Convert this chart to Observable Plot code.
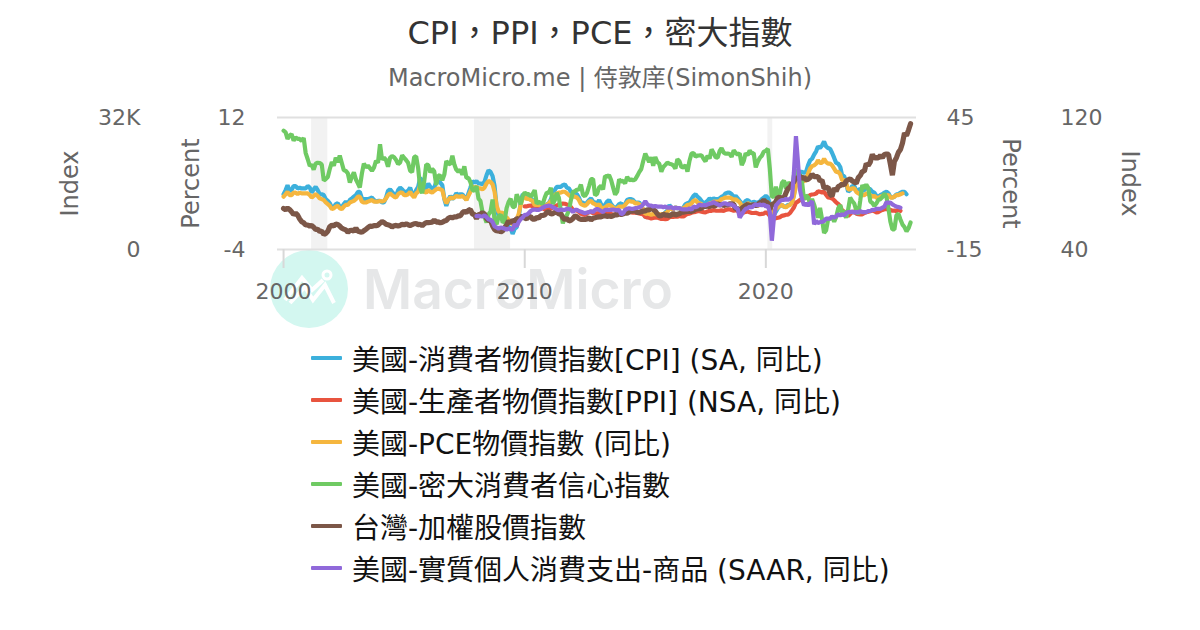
<!DOCTYPE html>
<html><head><meta charset="utf-8">
<script src="https://cdn.jsdelivr.net/npm/d3@7"></script>
<script src="https://cdn.jsdelivr.net/npm/@observablehq/plot@0.6"></script>
<style>
html,body{margin:0;padding:0;background:#fff;width:1200px;height:630px;overflow:hidden;font-family:"DejaVu Sans","Noto Sans CJK TC",sans-serif}
#head{height:100px;text-align:center;position:relative;z-index:2}
#title{font-size:32px;color:#333;position:absolute;left:0;right:0;top:13px;line-height:40px}
#sub{font-size:24px;color:#666;position:absolute;left:0;right:0;top:61px;line-height:34px}
#wm{position:absolute;left:0;top:0;z-index:0}
#chart{position:absolute;left:0;top:100px;z-index:1}
#chart svg{background:transparent;display:block}
#legend{position:absolute;left:311px;top:337px;z-index:2}
.row{height:42px;display:flex;align-items:center;font-size:28px;color:#111;white-space:nowrap}
.sw{width:31px;height:4px;margin-right:10px;border-radius:1px}
</style></head><body>
<svg id="wm" width="1200" height="340">
<circle cx="309" cy="289" r="39" fill="#d3f7f0"/>
<path d="M285 300 L302 278 L312 290 L323 280 M290 303 L305 287 L313 300 L325 285 L334 303" fill="none" stroke="#fff" stroke-width="4"/>
<circle cx="327" cy="275" r="4" fill="none" stroke="#fff" stroke-width="3"/>
<text x="363" y="309" font-family="Inter,Lato,sans-serif" font-weight="600" font-size="55" fill="#e6e7e8" textLength="310" lengthAdjust="spacingAndGlyphs">MacroMicro</text>
</svg>
<div id="head"><div id="title">CPI，PPI，PCE，密大指數</div><div id="sub">MacroMicro.me | 侍敦庠(SimonShih)</div></div>
<div id="chart"></div>
<div id="legend"></div>
<script>
const cpiStart=[2000,0], ppiStart=[2010,0], pceStart=[2000,0], umStart=[2000,0], twStart=[2000,0], goodsStart=[2008,0];
const cpi=[2.7,3.2,3.8,3.1,3.2,3.7,3.7,3.4,3.5,3.4,3.4,3.4,3.7,3.5,2.9,3.3,3.6,3.2,2.7,2.7,2.6,2.1,1.9,1.6,1.1,1.1,1.5,1.6,1.2,1.1,1.5,1.8,1.5,2.0,2.2,2.4,2.6,3.0,3.0,2.2,2.1,2.1,2.1,2.2,2.3,2.0,1.8,1.9,1.9,1.7,1.7,2.3,3.1,3.3,3.0,2.7,2.5,3.2,3.5,3.3,3.0,3.0,3.1,3.5,2.8,2.5,3.2,3.6,4.7,4.3,3.5,3.4,4.0,3.6,3.4,3.5,4.2,4.3,4.1,3.8,2.1,1.3,2.0,2.5,2.1,2.4,2.8,2.6,2.7,2.7,2.4,2.0,2.8,3.5,4.3,4.1,4.3,4.0,4.0,3.9,4.2,5.0,5.6,5.4,4.9,3.7,1.1,0.1,0.0,0.2,-0.4,-0.7,-1.3,-1.4,-2.1,-1.5,-1.3,-0.2,1.8,2.7,2.6,2.1,2.3,2.2,2.0,1.1,1.2,1.1,1.1,1.2,1.1,1.5,1.6,2.1,2.7,3.2,3.6,3.6,3.6,3.8,3.9,3.5,3.4,3.0,2.9,2.9,2.7,2.3,1.7,1.7,1.4,1.7,2.0,2.2,1.8,1.7,1.6,2.0,1.5,1.1,1.4,1.8,2.0,1.5,1.2,1.0,1.2,1.5,1.6,1.1,1.5,2.0,2.1,2.1,2.0,1.7,1.7,1.7,1.3,0.8,-0.1,0.0,-0.1,-0.2,0.0,0.1,0.2,0.2,0.0,0.2,0.5,0.7,1.4,1.0,0.9,1.1,1.0,1.0,0.8,1.1,1.5,1.6,1.7,2.1,2.5,2.7,2.4,2.2,1.9,1.6,1.7,1.9,2.2,2.0,2.2,2.1,2.1,2.2,2.4,2.5,2.8,2.9,2.9,2.7,2.3,2.5,2.2,1.9,1.6,1.5,1.9,2.0,1.8,1.6,1.8,1.7,1.7,1.8,2.1,2.3,2.5,2.3,1.5,0.3,0.1,0.6,1.0,1.3,1.4,1.2,1.2,1.4,1.4,1.7,2.6,4.2,5.0,5.4,5.4,5.3,5.4,6.2,6.8,7.0,7.5,7.9,8.5,8.3,8.6,9.1,8.5,8.3,8.2,7.7,7.1,6.5,6.4,6.0,5.0,4.9,4.0,3.0,3.2,3.7,3.7,3.2,3.1,3.4,3.1,3.2,3.5,3.4,3.3,3.0,2.9,2.5,2.4,2.6,2.7,2.9,3.0,2.8,2.4,2.3,2.4,2.7,2.7,2.9,3.0,3.0,2.7];
const ppi=[4.6,4.6,4.9,5.0,4.7,3.5,3.8,3.4,3.6,3.8,3.2,3.4,3.3,3.5,4.2,4.6,5.0,5.5,5.6,5.9,5.8,5.5,5.2,4.3,3.1,2.9,2.7,2.1,1.2,0.9,0.7,1.4,2.0,2.1,1.5,1.4,1.4,1.6,1.2,0.7,1.0,1.6,1.6,1.2,0.8,0.9,1.1,1.3,1.4,1.5,1.7,2.0,2.1,1.9,1.8,1.7,1.6,1.4,1.2,0.9,-0.1,-0.4,-0.6,-0.9,-0.7,-0.4,-0.5,-0.8,-1.1,-1.1,-1.2,-1.1,-0.3,-0.2,-0.2,0.0,-0.1,0.2,0.0,0.0,0.7,1.2,1.3,1.7,1.9,2.1,2.4,2.4,2.2,2.0,1.9,2.3,2.6,2.6,2.9,2.7,2.6,2.7,2.8,2.5,3.0,3.2,3.3,2.9,2.6,2.9,2.5,2.4,1.9,1.8,2.1,2.3,1.9,1.6,1.6,1.7,1.4,1.0,1.2,1.3,2.0,1.3,0.3,-1.3,-0.9,-0.8,-0.6,-0.3,0.3,0.5,0.8,0.8,1.6,2.9,4.1,6.3,6.8,7.5,7.8,8.3,8.6,8.6,9.8,10.0,10.1,10.4,11.5,11.2,10.9,11.2,9.9,8.7,8.5,8.2,7.4,6.4,5.7,4.7,2.7,2.3,1.1,0.2,1.1,2.0,2.2,1.3,1.1,1.0,1.0,1.6,1.9,2.2,2.4,2.7,2.4,1.9,2.0,2.6,3.0,3.3,3.4,3.2,3.0,2.6,2.7,2.4,3.1,2.6];
const pce=[2.4,2.7,3.0,2.6,2.6,2.9,2.9,2.7,2.9,2.8,2.8,2.8,2.8,2.6,2.3,2.5,2.7,2.5,2.2,2.1,2.0,1.7,1.5,1.3,0.9,1.0,1.2,1.3,1.0,0.9,1.2,1.4,1.4,1.7,1.8,1.9,2.1,2.4,2.4,1.8,1.7,1.7,1.8,1.9,2.0,1.8,1.8,1.8,1.9,1.8,1.9,2.2,2.6,2.8,2.6,2.4,2.3,2.7,2.9,2.9,2.6,2.6,2.7,3.0,2.6,2.3,2.8,3.0,3.8,3.5,3.0,2.9,3.2,3.0,2.9,3.1,3.3,3.4,3.3,3.2,2.2,1.6,2.0,2.3,2.2,2.3,2.5,2.4,2.4,2.5,2.3,2.0,2.5,3.0,3.6,3.5,3.6,3.4,3.4,3.3,3.5,4.0,4.3,4.2,3.9,3.0,1.3,0.6,0.4,0.5,0.0,-0.1,-0.4,-0.6,-1.0,-0.5,-0.3,0.3,1.4,2.2,2.4,2.1,2.2,2.0,1.9,1.4,1.4,1.4,1.3,1.4,1.2,1.4,1.6,1.9,2.2,2.6,2.8,2.9,2.9,3.0,3.0,2.8,2.6,2.4,2.4,2.4,2.3,2.0,1.5,1.4,1.3,1.5,1.8,1.9,1.6,1.5,1.3,1.5,1.1,1.0,1.1,1.3,1.4,1.3,1.1,0.9,1.0,1.2,1.2,1.2,1.4,1.7,1.9,1.8,1.8,1.6,1.6,1.5,1.2,0.9,0.3,0.4,0.3,0.2,0.3,0.3,0.3,0.3,0.2,0.3,0.4,0.5,1.1,0.9,0.9,1.1,1.0,1.0,0.9,1.0,1.2,1.4,1.4,1.6,1.9,2.0,1.7,1.6,1.5,1.3,1.3,1.4,1.6,1.6,1.8,1.8,1.8,1.9,2.1,2.2,2.3,2.3,2.3,2.2,2.0,2.1,1.9,1.7,1.3,1.3,1.4,1.6,1.5,1.4,1.4,1.4,1.3,1.4,1.5,1.6,1.8,1.7,1.3,0.5,0.5,0.9,1.1,1.3,1.4,1.2,1.1,1.3,1.4,1.7,2.5,3.7,4.1,4.2,4.2,4.3,4.4,5.2,5.8,6.1,6.2,6.4,6.8,6.5,6.5,7.0,6.6,6.4,6.4,6.2,5.8,5.4,5.4,5.1,4.4,4.4,4.0,3.3,3.3,3.4,3.4,3.0,2.8,2.7,2.6,2.6,2.8,2.7,2.6,2.4,2.5,2.3,2.2,2.4,2.5,2.6,2.5,2.6,2.3,2.3,2.4,2.6,2.6,2.7,2.8];
const sentiment=[112,111,107,109,110,106,108,107,107,105.8,107.6,98.4,94.7,90.6,91.5,88.4,92,92.6,92.4,91.5,81.8,82.7,83.9,88.8,93,90.7,95.7,93,96.9,92.4,88.1,87.6,86.1,80.6,84.2,86.7,82.4,79.9,77.6,86,92.1,89.7,90.9,89.3,87.7,89.6,93.7,92.6,103.8,94.4,95.8,94.2,90.2,95.6,96.7,95.9,94.2,91.7,92.8,97.1,95.5,94.1,92.6,87.7,86.9,96,96.5,89.1,76.9,74.2,81.6,91.5,91.2,86.7,88.9,87.4,79.1,84.9,84.7,82,85.4,93.6,92.1,91.7,96.9,91.3,88.4,87.1,88.3,85.3,90.4,83.4,83.4,80.9,76.1,75.5,78.4,70.8,69.5,62.6,59.8,56.4,61.2,63,70.3,57.6,55.3,60.1,61.2,56.3,57.3,65.1,68.7,70.8,66,65.7,73.5,70.6,67.4,72.5,74.4,73.6,73.6,72.2,73.6,76,67.8,68.9,68.2,67.7,71.6,74.5,74.2,77.5,67.5,69.8,74.3,71.5,63.7,55.8,59.5,60.8,63.7,69.9,75,75.3,76.2,76.4,79.3,73.2,72.3,74.3,78.3,82.6,82.7,72.9,73.8,77.6,78.6,76.4,84.5,84.1,85.1,82.1,77.5,73.2,75.1,82.5,81.2,81.6,80,84.1,81.9,82.5,81.8,82.5,84.6,86.9,88.8,93.6,98.1,95.4,93,95.9,90.7,96.1,93.1,91.9,87.2,90,91.3,92.6,92,91.7,91,89,94.7,93.5,90,89.8,91.2,87.2,93.8,98.2,98.5,96.3,96.9,97,97.1,95,93.4,96.8,95.1,100.7,98.5,95.9,95.7,99.7,101.4,98.8,98,98.2,97.9,96.2,100.1,98.6,97.5,98.3,91.2,93.8,98.4,97.2,100,98.2,98.4,89.8,93.2,95.5,96.8,99.3,99.8,101,89.1,71.8,72.3,78.1,72.5,74.1,80.4,81.8,76.9,80.7,79,76.8,84.9,88.3,82.9,85.5,81.2,70.3,72.8,71.7,67.4,70.6,67.2,62.8,59.4,65.2,58.4,50,51.5,58.2,58.6,59.9,56.8,59.7,64.9,67,62,63.5,59.2,64.2,71.5,69.4,67.9,63.8,61.3,69.7,79,76.9,79.4,77.2,69.1,68.2,66.4,67.9,70.1,70.5,71.8,74,71.7,64.7,57,52.2,52.2,60.7,61.7,58.2,55.1,53.6,51,52.9,56.4];
const taiex=[9944,9636,10054,9680,9139,8465,8836,8330,7385,6744,6457,5939,5936,5674,5797,5381,4870,4883,4352,4489,3636,3903,4441,5551,5872,5675,6167,6065,5675,5153,4940,4764,4191,4579,4681,4452,5142,4432,4321,4149,4556,4872,5318,5650,5611,5806,5771,5890,6375,6750,6522,6117,5977,5839,5420,5765,5845,5706,5844,6139,5994,6207,6006,5818,6011,6241,6312,6033,6119,5764,6203,6548,6532,6561,6613,7171,6650,6704,6455,6611,6883,7021,7567,7823,7699,7902,7884,8145,8144,8883,9287,8982,9476,9711,8586,8506,7521,8412,8572,8919,8619,7523,7024,7046,5719,4870,4460,4591,4247,4557,5210,5992,6890,6432,7077,6825,7509,7340,7582,8188,7640,7436,7920,8004,7374,7329,7760,7616,8237,8287,8372,8972,9145,8600,8683,9008,8989,8652,8644,7741,7225,7588,6904,7072,7517,8121,7933,7501,7301,7296,7270,7397,7715,7166,7580,7699,7850,7907,7918,8093,8254,7984,8107,8021,8173,8450,8406,8611,8462,8639,8849,8791,9075,9393,9315,9436,8966,8974,9187,9307,9361,9622,9586,10092,9701,9323,8665,8174,8181,8554,8320,8338,8145,8411,8744,8377,8535,8666,8984,9068,9166,9290,9240,9254,9448,9750,9811,9872,10041,10395,10427,10585,10321,10793,10560,10643,11103,10815,10919,10658,10875,10836,11057,11063,10937,9802,9888,9727,9932,10389,10641,10967,10498,10731,10824,10618,10829,11358,11489,11997,11495,11292,9708,10992,10943,11621,12665,12592,12515,12546,13723,14733,15138,15953,16431,17567,17068,17755,17247,17490,16935,16987,17428,18219,17674,17652,17693,16592,16807,14826,15000,15095,13425,12949,14880,14138,15265,15504,15868,15579,16579,16916,17145,16635,16354,16001,17433,17931,18967,18966,20806,20396,21175,23031,22200,22269,22225,22820,22263,23035,23164,23053,20695,18000,21347,22256,23542,24233,25821,28234,27627,28964,30500];
const goods=[0.2,0.3,0.1,0.0,0.5,-0.3,-1.3,-1.5,-2.5,-4.5,-5,-5.5,-5,-5.2,-5.5,-6,-5.5,-5.8,-6.0,-3.5,-4.5,-2.5,-1.2,-0.5,0.8,0.8,1.5,2.5,3.0,3.2,3.0,3.0,3.5,4,4.5,4.8,5,4.8,4.2,3.8,3.2,2.8,3.2,3.0,3.0,3.5,3.5,3.0,2.0,3.0,3.0,2.5,2.2,1.8,1.5,1.8,2.0,2.5,2.0,3.0,3.5,3.0,2.5,2.0,3.0,3.0,3.0,3.0,3.2,3,2.8,3,1.0,1.5,3,3.5,3.8,3.5,3.5,3.8,4,4.2,4.5,5.5,7.0,5.5,5.0,5.0,4.5,4.8,4.5,4.5,4.5,4.2,4.5,4.0,4,4.3,3.5,4,3.8,3.8,3.3,3.2,3.2,3.2,3.8,3.0,4.5,4.2,4.5,5.5,5.0,5.2,5.0,5.5,5.8,6.0,6.5,6.0,5.5,5.0,5.5,6.0,6.0,5.5,5.5,5.5,5,4.0,3.5,-0.5,1.0,2.5,3.5,3.8,4.5,4.0,5.0,5.5,5.0,5.5,5.0,5.5,4.5,5,2,-11,-1,5,6,7,7.5,7.5,8,7.5,8,9,20,36.5,25,12,8,5,6,5,6,7,-3.5,-2,-3,-2.5,-2.5,-2,-1,-1,-1,0,-0.5,0,1,0.5,1,0.5,1.5,2,2,2.2,1.8,2,1.8,2.5,2,2,2,2.5,2.5,3,3,3.5,3.5,3.5,4,4.5,6.5,6.2,6.3,5.5,5.0,4.5,4.3,4.0];

const yLeft2=v=>v/32000*16-4, yIdx=v=>(v-40)/80*16-4, yRight=v=>(v+15)/60*16-4;
const colors={cpi:"#3cb0dc",ppi:"#e8543f",pce:"#f5b63e",um:"#6fca63",tw:"#7c5748",goods:"#9069da"};
const mk=(arr,start,f,key)=>arr.map((v,i)=>({date:new Date(Date.UTC(start[0],start[1]+i,1)),y:f(v),key}));
const id=v=>v;
const series=[
 {k:"cpi",data:mk(cpi,cpiStart,id,"cpi"),w:4.2,label:"美國-消費者物價指數[CPI] (SA, 同比)"},
 {k:"ppi",data:mk(ppi,ppiStart,yRight,"ppi"),w:4.2,label:"美國-生產者物價指數[PPI] (NSA, 同比)"},
 {k:"pce",data:mk(pce,pceStart,id,"pce"),w:4.2,label:"美國-PCE物價指數 (同比)"},
 {k:"um",data:mk(sentiment,umStart,yIdx,"um"),w:4.2,label:"美國-密大消費者信心指數"},
 {k:"tw",data:mk(taiex,twStart,yLeft2,"tw"),w:5.2,label:"台灣-加權股價指數"},
 {k:"goods",data:mk(goods,goodsStart,yRight,"goods"),w:4.2,label:"美國-實質個人消費支出-商品 (SAAR, 同比)"}
];
const recessions=[[new Date(Date.UTC(2001,2,1)),new Date(Date.UTC(2001,10,1))],[new Date(Date.UTC(2007,11,1)),new Date(Date.UTC(2009,5,1))],[new Date(Date.UTC(2020,1,1)),new Date(Date.UTC(2020,3,15))]];
const yTicks=[-4,12];
const axisFont={fontSize:22,fill:"#666"};
const labelFont={fontSize:24,fill:"#666"};
const midDate=new Date(Date.UTC(2013,0,1));
const midX=283+13*24.07;
const chart=Plot.plot({
 width:1200,height:235,marginTop:17,marginBottom:86,marginLeft:277,marginRight:284,
 style:{background:"transparent",fontFamily:'"DejaVu Sans","Noto Sans CJK TC",sans-serif',overflow:"visible"},
 x:{type:"utc",domain:[new Date(Date.UTC(1999,9,1)),new Date(Date.UTC(2026,3,1))]},
 y:{domain:[-4,12],axis:null},
 marks:[
  Plot.rectX(recessions,{x1:d=>d[0],x2:d=>d[1],y1:-4,y2:12,fill:"#f2f2f2"}),
  Plot.ruleY(yTicks,{stroke:"#e0e0e0",strokeWidth:2}),
  Plot.axisX({ticks:[2000,2010,2020].map(y=>new Date(Date.UTC(y,0,1))),tickFormat:d=>String(d.getUTCFullYear()),tickSize:19,tickPadding:15,stroke:"#d8d8d8",strokeWidth:2,strokeOpacity:1,label:null,...axisFont,fillOpacity:1}),
  Plot.axisY({anchor:"left",ticks:yTicks,tickSize:0,tickPadding:32,label:null,...axisFont,fillOpacity:1,tickFormat:d=>String(d)}),
  Plot.axisY({anchor:"left",ticks:yTicks,tickSize:0,tickPadding:137,label:null,...axisFont,fillOpacity:1,tickFormat:d=>d<0?"0":"32K"}),
  Plot.axisY({anchor:"right",ticks:yTicks,tickSize:0,tickPadding:30,label:null,...axisFont,fillOpacity:1,tickFormat:d=>d<0?"-15":"45"}),
  Plot.axisY({anchor:"right",ticks:yTicks,tickSize:0,tickPadding:144,label:null,...axisFont,fillOpacity:1,tickFormat:d=>d<0?"40":"120"}),
  Plot.text(["Index"],{x:midDate,y:4,dx:-(midX-69),rotate:-90,...labelFont}),
  Plot.text(["Percent"],{x:midDate,y:4,dx:-(midX-190),rotate:-90,...labelFont}),
  Plot.text(["Percent"],{x:midDate,y:4,dx:1009-midX,rotate:90,...labelFont}),
  Plot.text(["Index"],{x:midDate,y:4,dx:1128-midX,rotate:90,...labelFont}),
  ...series.map(s=>Plot.lineY(s.data,{x:"date",y:"y",stroke:colors[s.k],strokeWidth:s.w,strokeLinejoin:"miter",curve:"linear"}))
 ]
});
document.getElementById("chart").append(chart);
const lg=document.getElementById("legend");
series.forEach(s=>{const r=document.createElement("div");r.className="row";const sw=document.createElement("div");sw.className="sw";sw.style.background=colors[s.k];const t=document.createElement("span");t.textContent=s.label;r.append(sw,t);lg.append(r);});
</script>
</body></html>
